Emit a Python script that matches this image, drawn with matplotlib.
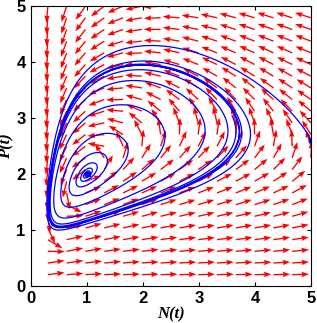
import numpy as np
import matplotlib
matplotlib.use("Agg")
import matplotlib.pyplot as plt

# parametros do modelo presa-predador (Holling-Tanner)
K = 7.5        # capacidade de suporte
r = K / (K - 1)  # crescimento da presa (equilibrio em (1, 2))
m = 1.0        # taxa de predacao
a = 1.0        # meia saturacao
s = 0.265      # crescimento do predador
h = 0.5        # razao predador/presa

# grade do campo de direcoes
n_grid = np.linspace(0.3, 5, 15)
p_grid = np.linspace(0.2, 5, 24)

# condicoes iniciais das trajetorias
starts_N = [1.02, 5.0]
starts_P = [2.0, 2.6]
t_end = [140, 70]


def campo(N, P):
    dN = r * N * (1 - N / K) - m * N * P / (a + N)
    dP = s * P * (1 - h * P / N)
    return dN, dP


def rk4(N0, P0, T, dt=0.01):
    xs, ys = [N0], [P0]
    N, P = N0, P0
    for _ in range(int(T / dt)):
        k1 = campo(N, P)
        k2 = campo(N + dt / 2 * k1[0], P + dt / 2 * k1[1])
        k3 = campo(N + dt / 2 * k2[0], P + dt / 2 * k2[1])
        k4 = campo(N + dt * k3[0], P + dt * k3[1])
        N += dt / 6 * (k1[0] + 2 * k2[0] + 2 * k3[0] + k4[0])
        P += dt / 6 * (k1[1] + 2 * k2[1] + 2 * k3[1] + k4[1])
        xs.append(N)
        ys.append(P)
    return np.array(xs), np.array(ys)


plt.rcParams["font.family"] = "Liberation Sans"
fig = plt.figure(figsize=(3.17, 3.23), dpi=100)
ax = fig.add_axes([0.098, 0.115, 0.883, 0.866])

NN, PP = np.meshgrid(n_grid, p_grid)
U, V = campo(NN, PP)
L = np.hypot(U, V)
comp = 0.3
ax.quiver(NN, PP, U / L * comp, V / L * comp, color="red",
          angles="xy", scale_units="xy", scale=1, units="xy",
          width=0.024, headwidth=4, headlength=5.5, headaxislength=5)

for n0, p0, T in zip(starts_N, starts_P, t_end):
    x, y = rk4(n0, p0, T)
    ax.plot(x, y, color="blue", lw=0.9)
    ax.plot(n0, p0, "s", color="blue", ms=3.5, clip_on=True)

ax.set_xlim(0, 5)
ax.set_ylim(0, 5)
ax.set_xticks(range(6))
ax.set_yticks(range(6))
ax.tick_params(direction="in", top=True, right=True, length=3,
               labelsize=12, pad=4)
for lb in ax.get_xticklabels() + ax.get_yticklabels():
    lb.set_fontweight("bold")
ax.set_xlabel("N(t)", family="Liberation Serif", style="italic",
              fontweight="bold", fontsize=12, labelpad=0)
ax.set_ylabel("P(t)", family="Liberation Serif", style="italic",
              fontweight="bold", fontsize=12, labelpad=1)

fig.savefig("out.png", dpi=100)
